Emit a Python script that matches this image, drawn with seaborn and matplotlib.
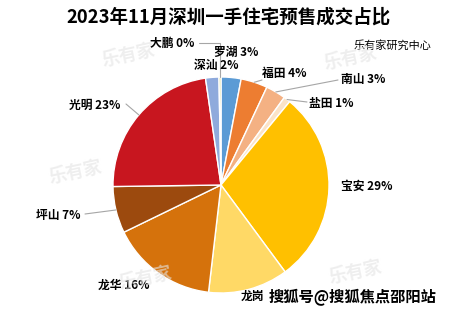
import numpy as np
import matplotlib
matplotlib.use("Agg")
import matplotlib.pyplot as plt
import seaborn as sns

districts = ["罗湖", "福田", "南山", "盐田", "宝安", "龙岗", "龙华", "坪山", "光明", "深汕", "大鹏"]
shares = [3, 4, 3, 1, 29, 12, 16, 7, 23, 2, 0.3]
labels = ["罗湖 3%", "福田 4%", "南山 3%", "盐田 1%", "宝安 29%", "龙岗",
          "龙华 16%", "坪山 7%", "光明 23%", "深汕 2%", "大鹏 0%"]
colors = ["#5B9BD5", "#ED7D31", "#F4B183", "#FBE3C8", "#FFC000", "#FFD966",
          "#D5720C", "#9C4A0E", "#C8161F", "#8FAADC", "#D9D97A"]

sns.set_theme(style="white")
plt.rcParams['font.family'] = ['Noto Sans CJK SC', 'DejaVu Sans']

fig = plt.figure(figsize=(4.51, 3.16), dpi=100)
ax = fig.add_axes([0, 0, 1, 1])

cx, cy, r = 221, 316 - 185, 108
wedges, _ = ax.pie(shares, colors=sns.color_palette(colors), startangle=90,
                   counterclock=False, center=(cx, cy), radius=r,
                   wedgeprops=dict(edgecolor="white", linewidth=1.0))
ax.set_xlim(0, 451)
ax.set_ylim(0, 316)
ax.set_aspect("equal")
ax.axis("off")

# label positions (pixel coords, top-left origin) and leader-line knee
label_pos = {
    "罗湖": (236, 52), "福田": (284, 73), "南山": (363, 80), "盐田": (331, 104),
    "宝安": (367, 186), "龙岗": (252, 296), "龙华": (124, 285), "坪山": (58, 215),
    "光明": (95, 105), "深汕": (216, 65), "大鹏": (172, 43),
}
leaders = {"大鹏": (199, 43), "福田": (262, 80), "南山": (338, 80),
           "盐田": (307, 102), "坪山": (85, 214), "光明": (126, 104)}

total = sum(shares)
cum = 0
for name, lab, val in zip(districts, labels, shares):
    mid = 90 - 360 * (cum + val / 2) / total
    cum += val
    px, py = label_pos[name]
    ax.text(px, 316 - py, lab, ha="center", va="center", fontsize=8.5,
            fontweight="bold", color="black")
    if name in leaders:
        ex = cx + r * np.cos(np.radians(mid))
        ey = cy + r * np.sin(np.radians(mid))
        lx, ly = leaders[name]
        if name == "大鹏":
            ax.plot([lx, ex, ex], [316 - ly, 316 - ly, ey], color="#A6A6A6", lw=0.8)
        else:
            ax.plot([lx, ex], [316 - ly, ey], color="#A6A6A6", lw=0.8)

ax.text(229, 316 - 17, "2023年11月深圳一手住宅预售成交占比", ha="center", va="center",
        fontsize=13.3, fontweight="bold", color="black")
ax.text(393, 316 - 45, "乐有家研究中心", ha="center", va="center", fontsize=8,
        fontweight="medium", color="black")

# faint watermarks
for wx, wy in [(128, 55), (350, 58), (75, 172), (145, 278), (355, 272)]:
    ax.text(wx, 316 - wy, "乐有家", ha="center", va="center", fontsize=13,
            fontweight="bold", color="#E4E4E4", alpha=0.6, rotation=12)

ax.text(353, 316 - 297, "搜狐号@搜狐焦点邵阳站", ha="center", va="center",
        fontsize=11, fontweight="bold", color="black")

fig.savefig("out.png", dpi=100)
